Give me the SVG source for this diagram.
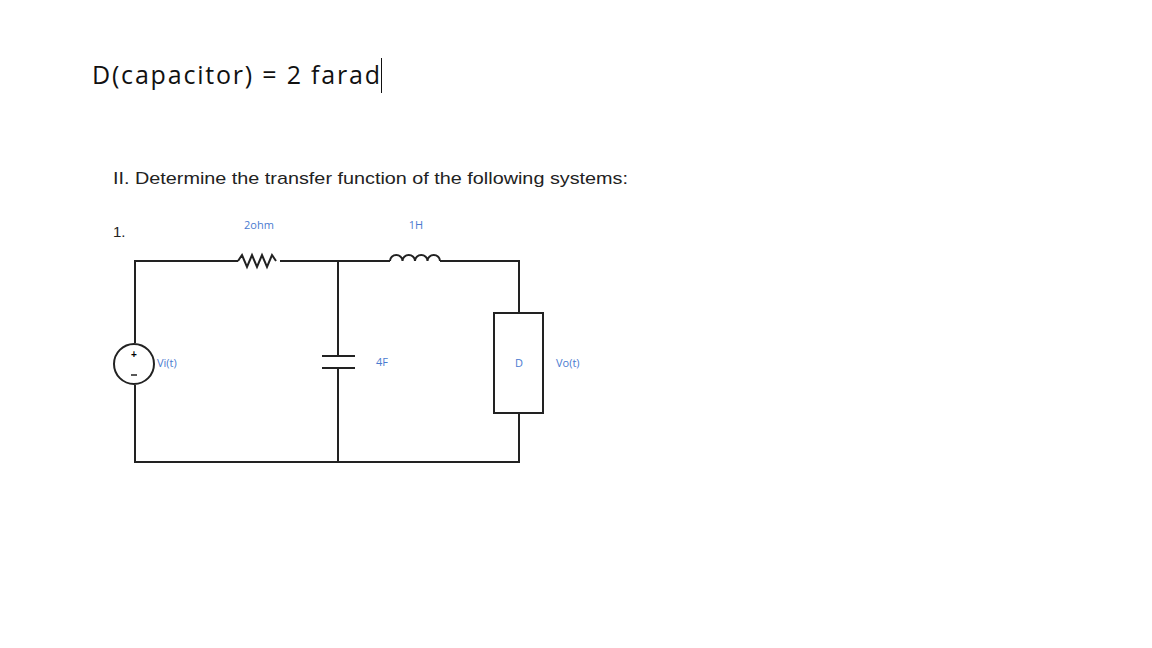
<svg xmlns="http://www.w3.org/2000/svg" width="1152" height="648" viewBox="0 0 1152 648">
<style>
.w{fill:none;stroke:#222;stroke-width:2}
.l{font-family:"Open Sans","Liberation Sans",sans-serif;font-size:11px;fill:#4a7bd0}
</style>
<rect width="1152" height="648" fill="#fff"/>
<text x="92" y="84" font-family="Open Sans,Liberation Sans,sans-serif" font-size="25" fill="#111" textLength="288">D(capacitor) = 2 farad</text>
<line x1="381.5" y1="58" x2="381.5" y2="93" stroke="#111" stroke-width="1"/>
<text x="113" y="184" font-family="Liberation Sans,sans-serif" font-size="17" fill="#222" textLength="515" lengthAdjust="spacingAndGlyphs">II. Determine the transfer function of the following systems:</text>
<text x="113" y="237" font-family="Liberation Sans,sans-serif" font-size="15" fill="#222">1.</text>
<g id="wires" class="w">
<path d="M135 343V261H238M280 261H390M440 261H519V313M519 413V462H135V385M338 261V356M338 368V462"/>
</g>
<g id="resistor"><path class="w" d="M238 261l4-6 5 12 5-12 5 12 5-12 5 12 5-12 4 6"/><text class="l" x="259" y="229" text-anchor="middle">2ohm</text></g>
<g id="inductor"><path class="w" d="M390 261a6.25 6 0 0 1 12.5 0a6.25 6 0 0 1 12.5 0a6.25 6 0 0 1 12.5 0a6.25 6 0 0 1 12.5 0"/><text class="l" x="416" y="229" text-anchor="middle">1H</text></g>
<g id="capacitor"><path class="w" d="M322 356H355M322 368H355"/><text class="l" x="382" y="366" text-anchor="middle">4F</text></g>
<g id="source"><circle class="w" cx="134" cy="364" r="20"/><text x="134" y="358" font-family="Liberation Sans,sans-serif" font-size="10" font-weight="bold" text-anchor="middle">+</text><line x1="131" y1="375" x2="137" y2="375" stroke="#222" stroke-width="1.5"/><text class="l" x="157" y="367">Vi(t)</text></g>
<g id="load"><rect class="w" x="494" y="313" width="49" height="100"/><text class="l" x="519" y="367" text-anchor="middle">D</text><text class="l" x="556" y="367">Vo(t)</text></g>
</svg>
